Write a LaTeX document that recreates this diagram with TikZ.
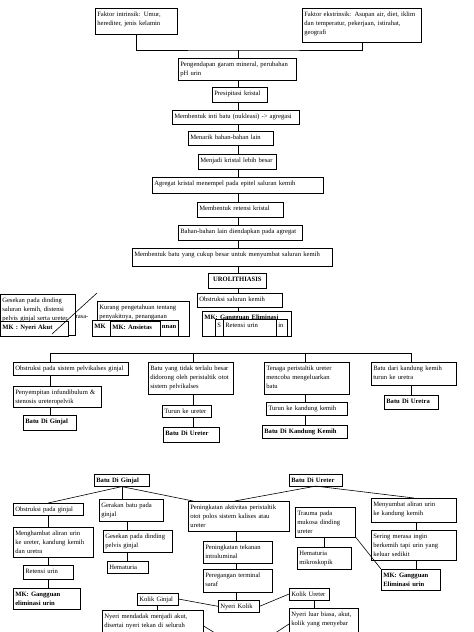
\documentclass[tikz,border=0pt]{standalone}
\usepackage{fontspec}
\setmainfont{Liberation Serif}
\newcommand\fs{\fontsize{6.6}{9}\selectfont}
\tikzset{>=latex}
\tikzset{
  box/.style={draw, fill=white, anchor=north west, align=left, inner xsep=2pt, inner ysep=2pt, text height=6pt, font=\fs},
  bbox/.style={box, font=\fs\bfseries},
}

\begin{document}
\begin{tikzpicture}[x=1pt, y=-1pt, line width=.6pt]
    \fill[white](0,0)rectangle(474,632);
    \useasboundingbox(0,0)rectangle(474,632);
    \clip(0,0)rectangle(474,632);
    % bagian atas
    \node[box, text width=78pt, text depth=16pt](intr) at (95,8){Faktor intrinsik: Umur,\\ herediter, jenis kelamin};
    \node[box, text width=115pt, text depth=24pt](ekst) at (302,8){Faktor ekstrinsik: Asupan air, diet, iklim\\ dan temperatur, pekerjaan, istirahat,\\ geografi};
    \node[box, text width=114pt, text depth=12pt](peng) at (178,58){Pengendapan garam mineral, perubahan\\ pH urin};
    \node[box, text width=51pt, text depth=5pt](pres) at (212,87){Presipitasi kristal};
    \node[box, text width=123pt, text depth=4pt](inti) at (172,110){Membentuk inti batu (nukleasi) -> agregasi};
    \node[box, text width=81pt, text depth=4pt](mnr) at (188,131){Menarik bahan-bahan lain};
    \node[box, text width=74pt, text depth=5pt](mnj) at (198,154){Menjadi kristal lebih besar};
    \node[box, text width=167pt, text depth=6pt](agr) at (152,177){Agregat kristal menempel pada epitel saluran kemih};
    \node[box, text width=82pt, text depth=5pt](ret) at (197,202){Membentuk retensi kristal};
    \node[box, text width=120pt, text depth=5pt](bhn) at (178,225){Bahan-bahan lain diendapkan pada agregat};
    \node[box, text width=196pt, text depth=8pt](btu) at (132,248){Membentuk batu yang cukup besar untuk menyumbat saluran kemih};
    \node[bbox, align=center, minimum width=58pt, text depth=5pt](uro) at (208,273){UROLITHIASIS};
    \node[box, text width=81pt, text depth=4pt](obs) at (197,293){Obstruksi saluran kemih};
    % kotak bertumpuk
    \node[box, text width=71pt, text depth=31pt](ges) at (0,294){Gesekan pada dinding\\ saluran kemih, distensi\\ pelvis ginjal serta ureter};
    \node[bbox, text width=64pt, text depth=5pt](mkn) at (0,321){MK : Nyeri Akut};
    \node[font=\fs, inner sep=0pt](rasa) at (82,317){rasa-};
    \node[box, text width=88pt, text depth=25pt](kur) at (97,301){Kurang pengetahuan tentang\\ penyakitnya, penanganan};
    \node[box, text width=82pt, text depth=6pt](mkb) at (92,320){\textbf{MK}\hfill\textbf{nnan}};
    \node[bbox, text width=46pt, text depth=5pt](ans) at (110,321){MK: Ansietas};
    \node[bbox, text width=85pt, text depth=15pt](mkg) at (202,311){MK: Gangguan Eliminasi};
    \node[box, text width=68pt, text depth=7pt](sbx) at (215,319){S};
    \node[box, text width=49pt, text depth=7pt](rbx) at (223,319){Retensi urin};
    \node[box, text width=7pt, text depth=7pt](ibx) at (276,319){in};
    % letak batu
    \node[box, text width=111pt, text depth=3pt](opk) at (13,362){Obstruksi pada sistem pelvikalses ginjal};
    \node[box, text width=84pt, text depth=10.5pt](pny) at (13,386){Penyempitan infundibulum \&\\ stenosis ureteropelvik};
    \node[bbox, text width=49pt, text depth=5pt](bdg) at (23,415){Batu Di Ginjal};
    \node[box, text width=81pt, text depth=22pt](btt) at (148,362){Batu yang tidak terlalu besar\\ didorong oleh peristaltik otot\\ sistem pelvikalses};
    \node[box, text width=45pt, text depth=2pt](tku) at (162,405){Turun ke ureter};
    \node[bbox, text width=52pt, text depth=5pt](bdu) at (163,427){Batu Di Ureter};
    \node[box, text width=81pt, text depth=22pt](tpu) at (264,362){Tenaga peristaltik ureter\\ mencoba mengeluarkan\\ batu};
    \node[box, text width=77pt, text depth=3pt](tkk) at (266,402){Turun ke kandung kemih};
    \node[bbox, text width=81pt, text depth=3pt](bdk) at (262,425){Batu Di Kandung Kemih};
    \node[box, text width=81pt, text depth=13pt](bkk) at (371,362){Batu dari kandung kemih\\ turun ke uretra};
    \node[bbox, text width=50pt, text depth=4pt](bdr) at (384,395){Batu Di Uretra};
    % batu di ginjal
    \node[bbox, text width=51pt, text depth=2pt](bgj) at (94,474){Batu Di Ginjal};
    \node[box, text width=66pt, text depth=2pt](opg) at (13,503){Obstruksi pada ginjal};
    \node[box, text width=76pt, text depth=19.5pt](mgh) at (13,527){Menghambat aliran urin\\ ke ureter, kandung kemih\\ dan uretra};
    \node[box, text width=46pt, text depth=4pt](rtu) at (23,565){Retensi urin};
    \node[bbox, text width=63pt, text depth=10.5pt](mke) at (13,588){MK: Gangguan\\ eliminasi urin};
    \node[box, text width=60pt, text depth=12pt](gbg) at (99,499){Gerakan batu pada\\ ginjal};
    \node[box, text width=65pt, text depth=12pt](gdp) at (103,530){Gesekan pada dinding\\ pelvis ginjal};
    \node[box, text width=37pt, text depth=1.5pt](hmt) at (107,561){Hematuria};
    \node[box, text width=97pt, text depth=20pt](pak) at (188,501){Peningkatan aktivitas peristaltik\\ otot polos sistem kalises atau\\ ureter};
    \node[box, text width=65pt, text depth=12pt](ptk) at (203,541){Peningkatan tekanan\\ intraluminal};
    \node[box, text width=65pt, text depth=13pt](prg) at (203,569){Peregangan terminal\\ saraf};
    \node[box, text width=37pt, text depth=2pt](nko) at (218,600){Nyeri Kolik};
    \node[box, text width=37pt, text depth=1.5pt](kgj) at (137,593){Kolik Ginjal};
    \node[box, text width=97pt, text depth=30pt](nmd) at (102,610){Nyeri mendadak menjadi akut,\\ disertai nyeri tekan di seluruh};
    % batu di ureter
    \node[bbox, text width=49pt, text depth=1.5pt](bur) at (289,474){Batu Di Ureter};
    \node[box, text width=56pt, text depth=19.5pt](trm) at (295,507){Trauma pada\\ mukosa dinding\\ ureter};
    \node[box, text width=50pt, text depth=12pt](hmk) at (297,547){Hematuria\\ mikroskopik};
    \node[box, text width=81pt, text depth=14pt](msb) at (371,498){Menyumbat aliran urin\\ ke kandung kemih};
    \node[box, text width=81pt, text depth=19.5pt](srg) at (371,530){Sering merasa ingin\\ berkemih tapi urin yang\\ keluar sedikit};
    \node[bbox, text width=55pt, text depth=11pt](mkr) at (381,569){MK: Gangguan\\ Eliminasi urin};
    \node[box, text width=36pt, text depth=1.5pt](kut) at (289,588){Kolik Ureter};
    \node[box, text width=65pt, text depth=30pt](nlb) at (289,608){Nyeri luar biasa, akut,\\ kolik yang menyebar};

    % garis atas
    \coordinate(jn) at (238,50);
    \coordinate(sp) at (238,0);
    \draw(intr.south)|-(jn)-|(ekst.south);
    \draw(jn)--(jn |- peng.north);
    \foreach \a/\b in {peng/pres, pres/inti, inti/mnr, mnr/mnj, mnj/agr, agr/ret, ret/bhn, bhn/btu, btu/uro, uro/obs, obs/mkg}
        \draw(sp |- \a.south)--(sp |- \b.north);
    \coordinate(dg1) at (52,334);
    \coordinate(dg2) at (97,293);
    \draw(dg1)--(dg2);

    % garis letak batu
    \coordinate(c1) at (50,353);
    \coordinate(c2) at (193,353);
    \coordinate(c3) at (305,353);
    \coordinate(c4) at (411,353);
    \draw(c1)--(c4);
    \foreach \c/\n in {c1/opk, c2/btt, c3/tpu, c4/bkk}
        \draw(\c)--(\c |- \n.north);
    \foreach \c/\a/\b in {c1/opk/pny, c1/pny/bdg, c2/btt/tku, c2/tku/bdu, c3/tpu/tkk, c3/tkk/bdk, c4/bkk/bdr}
        \draw(\c |- \a.south)--(\c |- \b.north);

    % garis bawah
    \coordinate(d1) at (48,0);
    \coordinate(d2) at (127,0);
    \coordinate(d3) at (236,0);
    \coordinate(d4) at (324,0);
    \coordinate(d5) at (416,0);
    \coordinate(d6) at (157,0);
    \coordinate(d7) at (314,0);
    \draw(bgj.south)--(opg.north);
    \draw(bgj.south)--(bgj.south |- gbg.north);
    \draw(bgj.south)--([xshift=5pt]pak.north west);
    \draw(bur.south)--([xshift=-4pt]pak.north);
    \draw(bur.south)--(msb.north);
    \foreach \c/\a/\b in {d1/opg/mgh, d1/mgh/rtu, d1/rtu/mke, d2/gbg/gdp, d2/gdp/hmt, d3/pak/ptk, d3/ptk/prg, d3/prg/nko, d4/trm/hmk, d5/msb/srg, d5/srg/mkr, d6/kgj/nmd, d7/kut/nlb}
        \draw(\c |- \a.south)--(\c |- \b.north);
    \draw(trm.south east)--(mkr.north west);
    \draw(kgj.east)--(nko.west);
    \draw(nko.east)--(kut.west);
    \coordinate(low) at (246,652);
    \draw([yshift=-16pt]nmd.north east)--(low);
    \draw([yshift=-16pt]nlb.north west)--(low);
\end{tikzpicture}
\end{document}
